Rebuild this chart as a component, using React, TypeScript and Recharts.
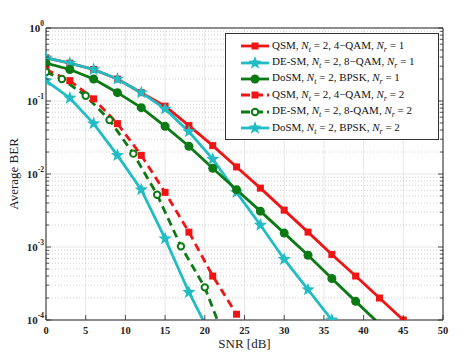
import React from 'react';
import { LineChart, Line, XAxis, YAxis, CartesianGrid, Legend } from 'recharts';

const RED = '#f01414';
const CYAN = '#21bcc4';
const GREEN = '#0c7a14';
const AXIS = '#262626';
const SERIF = '"Liberation Serif", "DejaVu Serif", serif';

// SNR grids (dB)
const snrQsm1 = [0, 3, 6, 9, 12, 15, 18, 21, 24, 27, 30, 33, 36, 39, 42, 45];
const snrDesm1 = [0, 3, 6, 9, 12, 15, 18, 21, 24, 27, 30, 33, 36];
const snrDosm1 = [0, 3, 6, 9, 12, 15, 18, 21, 24, 27, 30, 33, 36, 39, 42];
const snrQsm2 = [0, 3, 6, 9, 12, 15, 18, 21, 24];
const snrDesm2 = [0, 2, 5, 8, 11, 14, 17, 20, 23];
const snrDosm2 = [0, 3, 6, 9, 12, 15, 18, 21];

// BER values
const berQsm1 = [0.39, 0.33, 0.27, 0.2, 0.13, 0.085, 0.046, 0.0245, 0.0125, 0.0064, 0.0032, 0.0016, 0.00079, 0.0004, 0.0002, 0.0001];
const berDesm1 = [0.39, 0.33, 0.27, 0.2, 0.13, 0.078, 0.038, 0.016, 0.0056, 0.002, 0.00068, 0.00026, 0.0001];
const berDosm1 = [0.33, 0.27, 0.2, 0.13, 0.081, 0.045, 0.024, 0.012, 0.0061, 0.0031, 0.00155, 0.00077, 0.00037, 0.00018, 0.000088];
const berQsm2 = [0.27, 0.19, 0.107, 0.049, 0.018, 0.0056, 0.0016, 0.0004, 0.00012];
const berDesm2 = [0.25, 0.2, 0.118, 0.055, 0.019, 0.0052, 0.00102, 0.00028, 0.00004];
const berDosm2 = [0.19, 0.11, 0.049, 0.018, 0.0061, 0.0013, 0.00024, 0.000055];

const xTicks = [0, 5, 10, 15, 20, 25, 30, 35, 40, 45, 50];
const yMajor = [1e-4, 1e-3, 1e-2, 1e-1, 1];
const yMinor = yMajor.slice(0, 4).flatMap((d) => [2, 3, 4, 5, 6, 7, 8, 9].map((k) => k * d));

const legendNames = [
  ['QSM', '4\u2212QAM', '1'],
  ['DE-SM', '8\u2212QAM', '1'],
  ['DoSM', 'BPSK', '1'],
  ['QSM', '4\u2212QAM', '2'],
  ['DE-SM', '8-QAM', '2'],
  ['DoSM', 'BPSK', '2'],
];

const zip = (xs: number[], ys: number[]) => xs.map((snr, i) => ({ snr, ber: ys[i] }));

function starPath(cx: number, cy: number, ro: number) {
  const ri = ro * 0.42;
  let d = '';
  for (let i = 0; i < 10; i++) {
    const r = i % 2 === 0 ? ro : ri;
    const a = -Math.PI / 2 + (i * Math.PI) / 5;
    d += (i === 0 ? 'M' : 'L') + (cx + r * Math.cos(a)).toFixed(2) + ',' + (cy + r * Math.sin(a)).toFixed(2);
  }
  return d + 'Z';
}

type Marker = 'square' | 'star' | 'circle' | 'open';

function MarkerShape({ kind, cx, cy, color }: { kind: Marker; cx: number; cy: number; color: string }) {
  if (kind === 'square') return <rect x={cx - 3.5} y={cy - 3.5} width={7} height={7} fill={color} />;
  if (kind === 'star') return <path d={starPath(cx, cy, 7)} fill={color} />;
  if (kind === 'circle') return <circle cx={cx} cy={cy} r={4.5} fill={color} />;
  return <circle cx={cx} cy={cy} r={3.2} fill="#fff" stroke={color} strokeWidth={2} />;
}

const dotFor = (kind: Marker, color: string) => (p: any) => {
  const { cx, cy, index } = p;
  if (cx == null || cy == null) return <g key={`n${index}`} />;
  return (
    <g key={`d${index}`}>
      <MarkerShape kind={kind} cx={cx} cy={cy} color={color} />
    </g>
  );
};

const series = [
  { id: 'qsm1', data: zip(snrQsm1, berQsm1), color: RED, marker: 'square' as Marker, dash: undefined },
  { id: 'desm1', data: zip(snrDesm1, berDesm1), color: CYAN, marker: 'star' as Marker, dash: undefined },
  { id: 'dosm1', data: zip(snrDosm1, berDosm1), color: GREEN, marker: 'circle' as Marker, dash: undefined },
  { id: 'qsm2', data: zip(snrQsm2, berQsm2), color: RED, marker: 'square' as Marker, dash: '8 5' },
  { id: 'desm2', data: zip(snrDesm2, berDesm2), color: GREEN, marker: 'open' as Marker, dash: '8 5' },
  { id: 'dosm2', data: zip(snrDosm2, berDosm2), color: CYAN, marker: 'star' as Marker, dash: undefined },
];

const TS = 4;
const TM = 3;

const isMajor = (v: number) => Math.abs(Math.log10(v) - Math.round(Math.log10(v))) < 1e-6;

const LeftTick = (props: any) => {
  const { x, y, payload } = props;
  const v = payload.value;
  const ax = x + TS + TM;
  const major = isMajor(v);
  const e = Math.round(Math.log10(v));
  return (
    <g>
      <line x1={ax} x2={ax + (major ? 5 : 3)} y1={y} y2={y} stroke={AXIS} strokeWidth={0.8} />
      {major && (
        <text x={ax - 2} y={y + 4} textAnchor="end" fontFamily={SERIF} fontWeight="bold" fontSize={11} fill="#222">
          <tspan>10</tspan>
          <tspan dy={-6} fontSize={7.5}>{e === 0 ? '0' : `-${-e}`}</tspan>
        </text>
      )}
    </g>
  );
};

const RightTick = (props: any) => {
  const { x, y, payload } = props;
  const ax = x - TS - TM;
  const major = isMajor(payload.value);
  return <line x1={ax} x2={ax - (major ? 5 : 3)} y1={y} y2={y} stroke={AXIS} strokeWidth={0.8} />;
};

const BottomTick = (props: any) => {
  const { x, y, payload } = props;
  const ay = y - TS - TM;
  return (
    <g>
      <line x1={x} x2={x} y1={ay} y2={ay - 5} stroke={AXIS} strokeWidth={0.8} />
      <text x={x} y={ay + 14} textAnchor="middle" fontFamily={SERIF} fontWeight="bold" fontSize={10.5} fill="#222">
        {payload.value}
      </text>
    </g>
  );
};

const TopTick = (props: any) => {
  const { x, y } = props;
  const ay = y + TS + TM;
  return <line x1={x} x2={x} y1={ay} y2={ay + 5} stroke={AXIS} strokeWidth={0.8} />;
};

function LegendBox() {
  return (
    <div
      style={{
        border: '1px solid #333',
        background: '#fff',
        boxSizing: 'border-box',
        width: 214,
        height: 107,
        padding: '4px 0 0 14px',
        fontFamily: SERIF,
        fontSize: 11,
        color: '#111',
      }}
    >
      {series.map((s, i) => {
        const [name, mod, nr] = legendNames[i];
        return (
          <div key={s.id} style={{ display: 'flex', alignItems: 'center', height: 16.4, whiteSpace: 'nowrap' }}>
            <svg width={30} height={16} style={{ flex: 'none', marginRight: 2 }}>
              <line x1={1} x2={29} y1={8} y2={8} stroke={s.color} strokeWidth={2.8} strokeDasharray={s.dash ? '9 4' : undefined} />
              <MarkerShape kind={s.marker} cx={15} cy={8} color={s.color} />
            </svg>
            <span>
              {name}, <i>N</i>
              <sub style={{ fontSize: 8, fontStyle: 'italic' }}>t</sub> = 2, {mod}, <i>N</i>
              <sub style={{ fontSize: 8, fontStyle: 'italic' }}>r</sub> = {nr}
            </span>
          </div>
        );
      })}
    </div>
  );
}

const XLabel = (props: any) => {
  const { viewBox } = props;
  return (
    <text x={viewBox.x + viewBox.width / 2} y={348} textAnchor="middle" fontFamily={SERIF} fontSize={13} fill="#222">
      SNR [dB]
    </text>
  );
};

const YLabel = () => (
  <text x={18} y={174} transform="rotate(-90 18 174)" textAnchor="middle" fontFamily={SERIF} fontSize={13} fill="#222">
    Average BER
  </text>
);

export default function App() {
  return (
    <div style={{ position: 'absolute', left: 0, top: 0, width: 474, height: 355, background: '#fff' }}>
      <LineChart width={474} height={355} margin={{ top: 18, right: 21, bottom: 5, left: 6 }}>
        <CartesianGrid horizontalValues={yMajor} verticalValues={xTicks} stroke="#e2e2e2" strokeWidth={0.8} />
        <CartesianGrid horizontalValues={yMinor} vertical={false} stroke="#c4c4c4" strokeDasharray="1 2" strokeWidth={0.8} />
        <XAxis
          dataKey="snr"
          type="number"
          domain={[0, 50]}
          ticks={xTicks}
          interval={0}
          height={30}
          tickSize={TS}
          tickMargin={TM}
          tickLine={false}
          tick={BottomTick}
          stroke={AXIS}
          allowDataOverflow
          label={<XLabel />}
        />
        <XAxis
          xAxisId="top"
          orientation="top"
          type="number"
          domain={[0, 50]}
          ticks={xTicks}
          interval={0}
          height={10}
          tickSize={TS}
          tickMargin={TM}
          tickLine={false}
          tick={TopTick}
          stroke={AXIS}
        />
        <YAxis
          scale="log"
          type="number"
          domain={[1e-4, 1]}
          ticks={[...yMajor, ...yMinor].sort((a, b) => a - b)}
          interval={0}
          width={40}
          tickSize={TS}
          tickMargin={TM}
          tickLine={false}
          tick={LeftTick}
          stroke={AXIS}
          allowDataOverflow
          label={<YLabel />}
        />
        <YAxis
          yAxisId="right"
          orientation="right"
          scale="log"
          type="number"
          domain={[1e-4, 1]}
          ticks={[...yMajor, ...yMinor].sort((a, b) => a - b)}
          interval={0}
          width={10}
          tickSize={TS}
          tickMargin={TM}
          tickLine={false}
          tick={RightTick}
          stroke={AXIS}
          allowDataOverflow
        />
        {series.map((s) => (
          <Line
            key={s.id}
            data={s.data}
            dataKey="ber"
            type="linear"
            stroke={s.color}
            strokeWidth={2.8}
            strokeDasharray={s.dash}
            dot={dotFor(s.marker, s.color)}
            activeDot={false}
            isAnimationActive={false}
            legendType="none"
          />
        ))}
        <Legend
          layout="vertical"
          align="center"
          verticalAlign="middle"
          content={<LegendBox />}
          wrapperStyle={{ left: 225, top: 33, width: 214, height: 107 }}
        />
      </LineChart>
    </div>
  );
}
